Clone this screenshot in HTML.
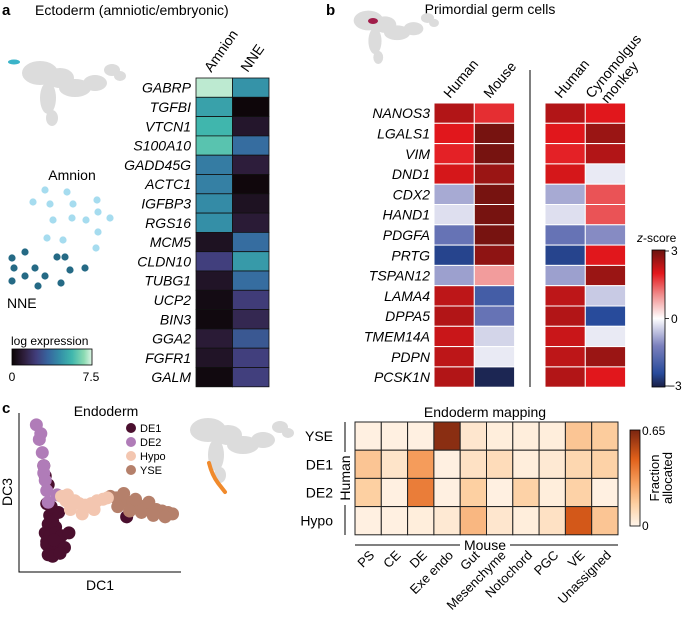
<!DOCTYPE html>
<html><head><meta charset="utf-8">
<style>
body{margin:0;background:#fff;}
svg{display:block;font-family:"Liberation Sans",Arial,sans-serif;}
</style></head>
<body>
<svg id="fig" width="685" height="627" viewBox="0 0 685 627" xmlns="http://www.w3.org/2000/svg">
<defs>
<linearGradient id="gMako" x1="0" x2="1" y1="0" y2="0">
<stop offset="0" stop-color="#0b0405"/><stop offset="0.15" stop-color="#2e1e3c"/><stop offset="0.3" stop-color="#413d7b"/><stop offset="0.45" stop-color="#37659e"/><stop offset="0.6" stop-color="#348fa7"/><stop offset="0.75" stop-color="#40b7ad"/><stop offset="0.9" stop-color="#8bdab2"/><stop offset="1" stop-color="#def5e5"/>
</linearGradient>
<linearGradient id="gZ" x1="0" x2="0" y1="1" y2="0">
<stop offset="0" stop-color="#1a1f45"/><stop offset="0.1" stop-color="#284b9b"/><stop offset="0.3" stop-color="#7b80bd"/><stop offset="0.5" stop-color="#ffffff"/><stop offset="0.67" stop-color="#f08f8f"/><stop offset="0.83" stop-color="#e3171c"/><stop offset="1" stop-color="#6b130f"/>
</linearGradient>
<linearGradient id="gOr" x1="0" x2="0" y1="1" y2="0">
<stop offset="0" stop-color="#fff5eb"/><stop offset="0.23" stop-color="#fdd0a2"/><stop offset="0.46" stop-color="#f59c5b"/><stop offset="0.7" stop-color="#e0601a"/><stop offset="1" stop-color="#7a2510"/>
</linearGradient>
</defs>

<text x="2" y="15" font-size="15" font-weight="bold">a</text>
<text x="35" y="15" font-size="14">Ectoderm (amniotic/embryonic)</text>
<text x="326" y="15" font-size="15" font-weight="bold">b</text>
<text x="490" y="14" font-size="14" text-anchor="middle">Primordial germ cells</text>
<text x="2" y="413" font-size="15" font-weight="bold">c</text>
<text x="106" y="416" font-size="14" text-anchor="middle">Endoderm</text>
<text x="485" y="417" font-size="14" text-anchor="middle">Endoderm mapping</text>

<g id="umaps"></g>
<g id="dotsA"></g>
<text x="72" y="180" font-size="14" text-anchor="middle">Amnion</text>
<text x="7" y="308" font-size="14">NNE</text>

<text x="11" y="345" font-size="12">log expression</text>
<rect x="12" y="349" width="80" height="16" fill="url(#gMako)" stroke="#000" stroke-width="0.8"/>
<text x="12" y="381" font-size="12" text-anchor="middle">0</text>
<text x="91" y="381" font-size="12" text-anchor="middle">7.5</text>

<g id="heatA"></g>
<g id="heatB"></g>
<line x1="530" y1="70" x2="530" y2="387" stroke="#000" stroke-width="1"/>
<text x="637" y="242" font-size="12"><tspan font-style="italic">z</tspan>-score</text>
<rect x="652" y="250" width="13" height="137" fill="url(#gZ)" stroke="#000" stroke-width="0.8"/>
<g stroke="#000" stroke-width="0.8"><line x1="665" y1="251" x2="669" y2="251"/><line x1="665" y1="318.5" x2="669" y2="318.5"/><line x1="665" y1="386" x2="669" y2="386"/></g>
<text x="671" y="255" font-size="12">3</text>
<text x="671" y="323" font-size="12">0</text>
<text x="668" y="390" font-size="12">−3</text>

<g id="scatter"></g>
<g id="heatC"></g>
<rect x="630" y="430" width="10" height="96" fill="url(#gOr)" stroke="#000" stroke-width="0.8"/>
<text x="642" y="435" font-size="12">0.65</text>
<text x="642" y="530" font-size="12">0</text>
<text transform="translate(659,478) rotate(-90)" font-size="13" text-anchor="middle"><tspan x="0" dy="0">Fraction</tspan><tspan x="0" dy="13">allocated</tspan></text>
</svg>

<script>
const NS='http://www.w3.org/2000/svg';
function mk(parent,tag,attrs,text){const e=document.createElementNS(NS,tag);for(const k in attrs)e.setAttribute(k,attrs[k]);if(text!==undefined)e.textContent=text;parent.appendChild(e);return e;}
function lerpStops(stops,t){t=Math.max(0,Math.min(1,t));for(let i=1;i<stops.length;i++){if(t<=stops[i][0]){const a=stops[i-1],b=stops[i];const f=(t-a[0])/(b[0]-a[0]);const ca=a[1],cb=b[1];const c=[0,1,2].map(j=>Math.round(ca[j]+(cb[j]-ca[j])*f));return 'rgb('+c.join(',')+')';}}return 'rgb('+stops[stops.length-1][1].join(',')+')';}
const hex=h=>[1,3,5].map(i=>parseInt(h.substr(i,2),16));

// ===== Panel a data =====
const genesA=['GABRP','TGFBI','VTCN1','S100A10','GADD45G','ACTC1','IGFBP3','RGS16','MCM5','CLDN10','TUBG1','UCP2','BIN3','GGA2','FGFR1','GALM'];
const colsA=['Amnion','NNE'];
const amnionVals=[7.2,5.0,5.6,6.0,4.0,4.1,4.4,4.5,0.6,2.3,0.7,0.3,0.2,1.0,0.7,0.2];
const nneVals=[4.6,0.1,0.8,3.6,1.1,0.15,0.6,1.0,3.6,4.8,3.6,2.2,1.5,3.0,2.3,2.3];

// ===== Panel b data =====
const genesB=['NANOS3','LGALS1','VIM','DND1','CDX2','HAND1','PDGFA','PRTG','TSPAN12','LAMA4','DPPA5','TMEM14A','PDPN','PCSK1N'];
const humanVals=[2.4,2.0,1.9,2.1,-0.8,-0.3,-1.5,-2.5,-0.9,2.3,2.4,2.2,2.3,2.4];
const mouseVals=[1.8,2.9,2.9,2.6,2.9,2.9,2.9,2.7,0.9,-2.0,-1.5,-0.4,-0.2,-2.9];
const human2Vals=[2.4,2.0,1.9,2.1,-0.8,-0.3,-1.5,-2.5,-0.9,2.3,2.4,2.2,2.3,2.4];
const monkeyVals=[2.0,2.6,2.4,-0.2,1.5,1.5,-1.1,2.0,2.6,-0.5,-2.4,-0.2,2.6,2.0];

// ===== Panel c heatmap data =====
const mouseCats=['PS','CE','DE','Exe endo','Gut','Mesenchyme','Notochord','PGC','VE','Unassigned'];
const humanCats=['YSE','DE1','DE2','Hypo'];
const yseFrac=[0.02,0.02,0.02,0.62,0.06,0.03,0.03,0.03,0.18,0.16];
const de1Frac=[0.18,0.07,0.30,0.02,0.08,0.10,0.03,0.05,0.12,0.14];
const de2Frac=[0.15,0.02,0.38,0.02,0.15,0.02,0.14,0.03,0.14,0.02];
const hypoFrac=[0.02,0.02,0.03,0.05,0.22,0.06,0.03,0.08,0.48,0.18];

// ===== Panel c scatter data (DC1, DC3 in 0..1) =====
const de2X=[0.07,0.09,0.11,0.12,0.13,0.14,0.15,0.10,0.12,0.21];
const de2Y=[0.96,0.86,0.77,0.68,0.58,0.51,0.43,0.90,0.63,0.48];
const de1X=[0.15,0.14,0.16,0.15,0.18,0.20,0.13,0.16,0.20,0.24,0.14,0.17,0.22,0.26,0.15,0.18,0.23,0.14,0.19,0.29,0.22,0.17,0.13,0.68,0.12];
const de1Y=[0.55,0.42,0.34,0.28,0.30,0.26,0.22,0.20,0.22,0.20,0.14,0.12,0.14,0.12,0.07,0.06,0.08,0.16,0.17,0.22,0.36,0.40,0.61,0.33,0.68];
const hypoX=[0.24,0.27,0.30,0.33,0.36,0.40,0.44,0.48,0.52,0.55,0.30,0.38,0.46,0.28];
const hypoY=[0.47,0.44,0.42,0.44,0.42,0.41,0.42,0.44,0.45,0.46,0.38,0.35,0.38,0.48];
const yseX=[0.57,0.61,0.65,0.69,0.72,0.76,0.80,0.84,0.88,0.92,0.96,0.99,0.62,0.70,0.78,0.86,0.94,0.74,0.83,0.66];
const yseY=[0.47,0.46,0.44,0.43,0.42,0.41,0.40,0.39,0.38,0.37,0.36,0.35,0.40,0.37,0.36,0.34,0.33,0.45,0.43,0.49];

const makoStops=[[0,'#0b0405'],[0.15,'#2e1e3c'],[0.3,'#413d7b'],[0.45,'#37659e'],[0.6,'#348fa7'],[0.75,'#40b7ad'],[0.9,'#8bdab2'],[1,'#def5e5']].map(s=>[s[0],hex(s[1])]);
const mako=v=>lerpStops(makoStops,v/7.5);
const zStops=[[0,'#1a1f45'],[0.1,'#284b9b'],[0.3,'#7b80bd'],[0.5,'#ffffff'],[0.67,'#f08f8f'],[0.83,'#e3171c'],[1,'#6b130f']].map(s=>[s[0],hex(s[1])]);
const zcol=v=>lerpStops(zStops,(v+3)/6);
const orStops=[[0,'#fff5eb'],[0.23,'#fdd0a2'],[0.46,'#f59c5b'],[0.7,'#e0601a'],[1,'#7a2510']].map(s=>[s[0],hex(s[1])]);
const ocol=v=>lerpStops(orStops,v/0.65);

// ---------- Heatmap A ----------
const gA=document.getElementById('heatA');
const axA={x0:196,cw:36.5,y0:78,rh:19.3};
const colXA=i=>axA.x0+i*axA.cw, rowYA=i=>axA.y0+i*axA.rh;
[amnionVals,nneVals].forEach((arr,c)=>{
  arr.forEach((v,r)=>{
    const el=mk(gA,'rect',{x:colXA(c),y:rowYA(r),width:axA.cw,height:axA.rh,fill:mako(v),stroke:'#111','stroke-width':0.8});
    
    
  });
});
genesA.forEach((g,r)=>{
  const t=mk(gA,'text',{x:191,y:rowYA(r)+axA.rh/2+5,'font-size':14,'font-style':'italic','text-anchor':'end'},g);
  
  
});
colsA.forEach((c,i)=>{
  const x=colXA(i)+axA.cw/2-3,y=73;
  const t=mk(gA,'text',{transform:'translate('+x+','+y+') rotate(-55)','font-size':14},c);
  
  
});

// ---------- Heatmap B ----------
const gB=document.getElementById('heatB');
const axB={y0:103,rh:20.3,cw:40.3};
const rowYB=i=>axB.y0+i*axB.rh;
const blocks=[{x0:434,cols:[['Human',humanVals],['Mouse',mouseVals]]},{x0:545,cols:[['Human',human2Vals],['Cynomolgus monkey',monkeyVals]]}];
blocks.forEach((b,bi)=>{
  b.cols.forEach((col,ci)=>{
    col[1].forEach((v,r)=>{
      const el=mk(gB,'rect',{x:b.x0+ci*axB.cw,y:rowYB(r),width:axB.cw,height:axB.rh,fill:zcol(v),stroke:'#fff','stroke-width':1});
      
      
    });
  });
});
genesB.forEach((g,r)=>{
  const t=mk(gB,'text',{x:430,y:rowYB(r)+axB.rh/2+5,'font-size':14,'font-style':'italic','text-anchor':'end'},g);
  
  
});
[['Human',450,99],['Mouse',490,99],['Human',561,99]].forEach(h=>{
  const t=mk(gB,'text',{transform:'translate('+h[1]+','+h[2]+') rotate(-50)','font-size':14},h[0]);
  
  
});
{
  const t=mk(gB,'text',{transform:'translate(592,99) rotate(-50)','font-size':14},'');
  mk(t,'tspan',{x:0,dy:0},'Cynomolgus');mk(t,'tspan',{x:6,dy:15},'monkey');
  
  
}

// ---------- Heatmap C ----------
const gC=document.getElementById('heatC');
const axC={x0:355,cw:26.3,y0:422,rh:28.2};
const colXC=i=>axC.x0+i*axC.cw,rowYC=i=>axC.y0+i*axC.rh;
[yseFrac,de1Frac,de2Frac,hypoFrac].forEach((arr,r)=>{
  arr.forEach((v,c)=>{
    const el=mk(gC,'rect',{x:colXC(c),y:rowYC(r),width:axC.cw,height:axC.rh,fill:ocol(v),stroke:'#222','stroke-width':1});
    
    
  });
});
humanCats.forEach((h,r)=>{
  const t=mk(gC,'text',{x:333,y:rowYC(r)+axC.rh/2+5,'font-size':14,'text-anchor':'end'},h);
  
  
});
mouseCats.forEach((m,c)=>{
  const x=colXC(c)+axC.cw/2+7,y=556;
  const t=mk(gC,'text',{transform:'translate('+x+','+y+') rotate(-45)','font-size':13,'text-anchor':'end'},m);
  
  
});
mk(gC,'line',{x1:355,y1:545,x2:460,y2:545,stroke:'#000','stroke-width':1});
mk(gC,'line',{x1:510,y1:545,x2:618,y2:545,stroke:'#000','stroke-width':1});
{const t=mk(gC,'text',{x:485,y:550,'font-size':14,'text-anchor':'middle'},'Mouse');}
mk(gC,'line',{x1:345,y1:422,x2:345,y2:452,stroke:'#000','stroke-width':1});
mk(gC,'line',{x1:345,y1:505,x2:345,y2:535,stroke:'#000','stroke-width':1});
{const t=mk(gC,'text',{transform:'translate(350,478) rotate(-90)','font-size':14,'text-anchor':'middle'},'Human');}

// ---------- Scatter ----------
const gS=document.getElementById('scatter');
const sx=v=>26+v*148, sy=v=>565-v*146;
const groups=[['DE1',de1X,de1Y,'#4a0f2e'],['DE2',de2X,de2Y,'#b07cb8'],['YSE',yseX,yseY,'#b5806b'],['Hypo',hypoX,hypoY,'#f3c6b0']];
groups.forEach(g=>{
  g[1].forEach((x,i)=>{
    const el=mk(gS,'circle',{cx:sx(x),cy:sy(g[2][i]),r:6.5,fill:g[3]});
    
    
  });
});
mk(gS,'polyline',{points:'19,413 19,572 181,572',fill:'none',stroke:'#000','stroke-width':1});
{const t=mk(gS,'text',{x:100,y:590,'font-size':14,'text-anchor':'middle'},'DC1');}
{const t=mk(gS,'text',{transform:'translate(12,492) rotate(-90)','font-size':14,'text-anchor':'middle'},'DC3');}
[['DE1','#4a0f2e'],['DE2','#b07cb8'],['Hypo','#f3c6b0'],['YSE','#b5806b']].forEach((l,i)=>{
  const y=428+i*14;
  const c=mk(gS,'circle',{cx:131,cy:y,r:5,fill:l[1]});
  
  
  const t=mk(gS,'text',{x:140,y:y+4,'font-size':11},l[0]);
  
  
});

// ---------- UMAP thumbnails (decorative) ----------
const gU=document.getElementById('umaps');
function umap(ox,oy,s){
  const blob=[[20,25,18,12],[40,30,14,10],[55,40,16,9],[75,35,12,8],[92,22,8,6],[100,28,6,5],[28,50,8,16],[32,70,6,8]];
  blob.forEach(b=>{mk(gU,'ellipse',{cx:ox+b[0]*s,cy:oy+b[1]*s,rx:b[2]*s,ry:b[3]*s,fill:'#dcdcdc'});});
}
umap(20,48,1.0);
mk(gU,'ellipse',{cx:14,cy:62,rx:6,ry:2.5,fill:'#3bb4c9'});
umap(352,0,0.82);
mk(gU,'ellipse',{cx:373,cy:21,rx:5,ry:3,fill:'#a11d4a'});
umap(188,405,1.0);
mk(gU,'path',{d:'M209,463 Q212,475 218,483 L225,492',stroke:'#f08a2c','stroke-width':4,fill:'none','stroke-linecap':'round'});

// ---------- Amnion / NNE dots ----------
const gD=document.getElementById('dotsA');
const amnX=[45,67,33,50,73,97,98,110,53,72,86,98,47,63,96];
const amnY=[190,192,202,204,204,200,212,218,220,218,220,232,238,240,248];
const nneX=[12,25,14,35,57,65,70,85,25,45,12,38,61];
const nneY=[258,252,268,268,257,257,270,268,276,276,281,286,283];
amnX.forEach((x,i)=>{const c=mk(gD,'circle',{cx:x,cy:amnY[i],r:3.6,fill:'#a6dcef'});});
nneX.forEach((x,i)=>{const c=mk(gD,'circle',{cx:x,cy:nneY[i],r:3.6,fill:'#256a85'});});
</script>
</body></html>
